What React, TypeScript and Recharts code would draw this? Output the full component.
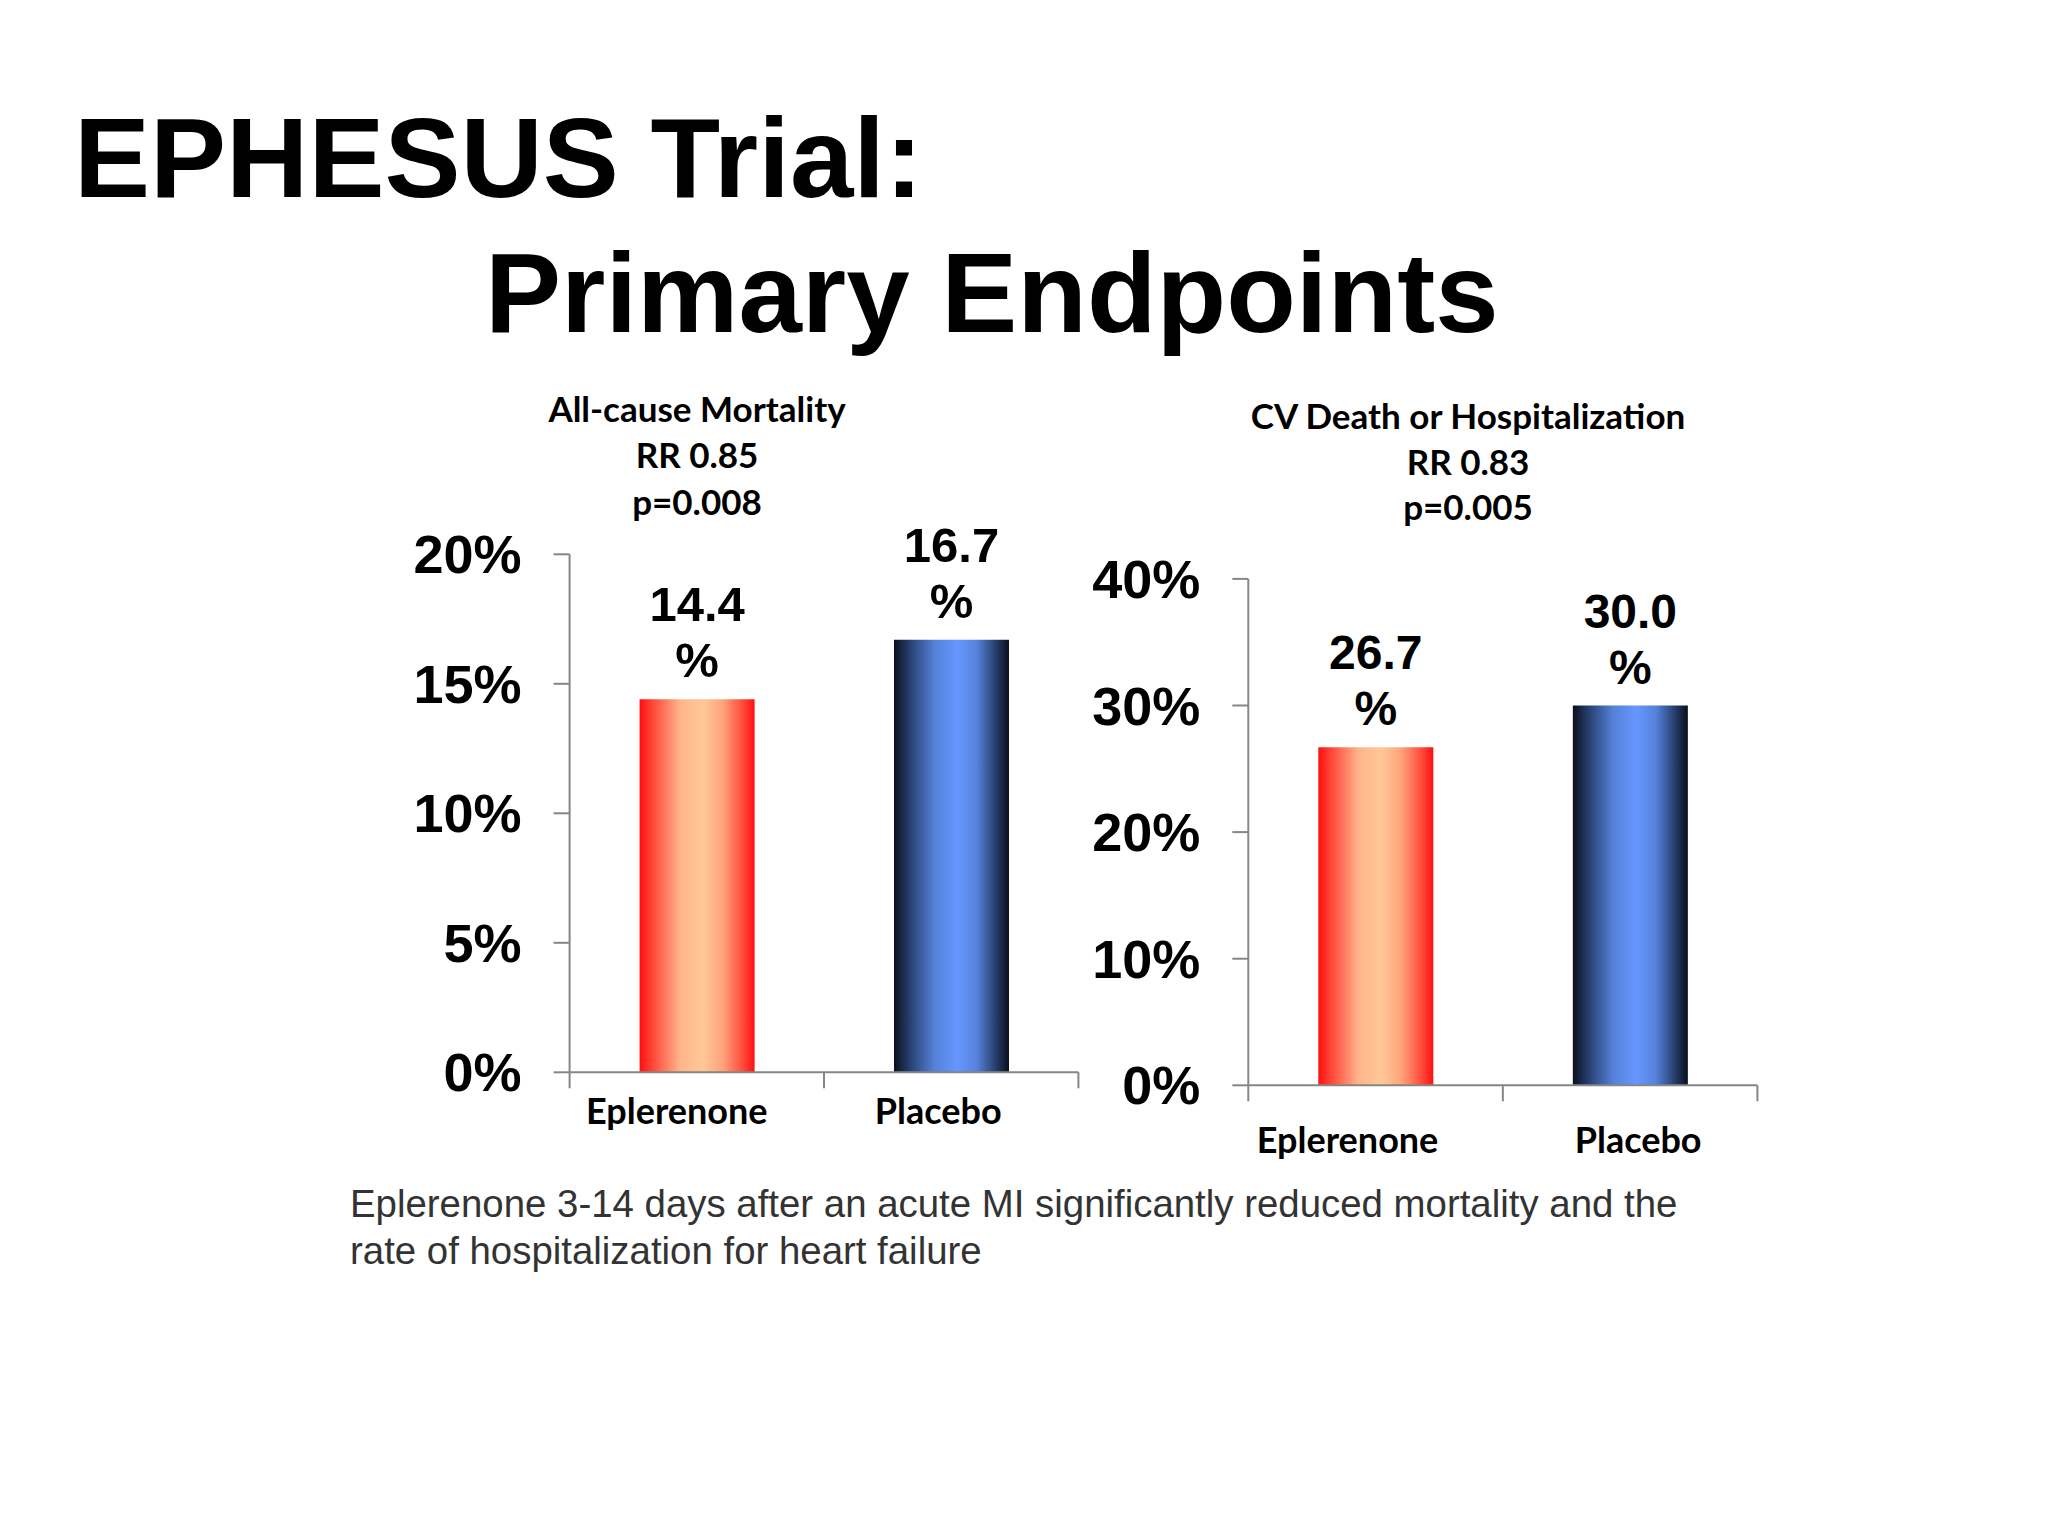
import React from 'react';
import { BarChart, Bar, XAxis, YAxis, LabelList, Cell } from 'recharts';

// ---- Data ----
const categories = ['Eplerenone', 'Placebo'];
const mortalityValues = [14.4, 16.7];
const cvValues = [26.7, 30.0];
const mortalityTicks = [0, 5, 10, 15, 20];
const cvTicks = [0, 10, 20, 30, 40];
const mortalityTitle = ['All-cause Mortality', 'RR 0.85', 'p=0.008'];
const cvTitle = ['CV Death or Hospitalization', 'RR 0.83', 'p=0.005'];
const titleLines = ['EPHESUS Trial:', 'Primary Endpoints'];
const footnoteLines = [
  'Eplerenone 3-14 days after an acute MI significantly reduced mortality and the',
  'rate of hospitalization for heart failure',
];
const barFills = ['url(#gradRed)', 'url(#gradBlue)'];

const ARIAL = '"Liberation Sans", Arial, sans-serif';
const CALIBRI = 'Lato, "Open Sans", sans-serif';
const AXIS = '#868686';

const mortalityData = categories.map((name, i) => ({ name, value: mortalityValues[i] }));
const cvData = categories.map((name, i) => ({ name, value: cvValues[i] }));

type ChartProps = {
  data: { name: string; value: number }[];
  ticks: number[];
  left: number;
  top: number;
  width: number;
  height: number;
  marginTop: number;
  marginRight: number;
  marginBottom: number;
  yAxisWidth: number;
  labelDy: number;
  labelOffsets: number[];
  valueFont: number;
};

function EndpointChart(p: ChartProps) {
  const plotW = p.width - p.yAxisWidth - p.marginRight;
  const band = plotW / p.data.length;

  const renderTick = (props: any) => {
    const { x, y, payload, index } = props;
    const half = band / 2;
    return (
      <g>
        <line x1={x - half} x2={x - half} y1={y} y2={y + 16} stroke={AXIS} strokeWidth={2} />
        {index === p.data.length - 1 && (
          <line x1={x + half} x2={x + half} y1={y} y2={y + 16} stroke={AXIS} strokeWidth={2} />
        )}
        <text
          x={x + (p.labelOffsets[index] || 0)}
          y={y + p.labelDy}
          textAnchor="middle"
          fontFamily={CALIBRI}
          fontWeight={700}
          fontSize={36}
          fill="#000"
        >
          {payload.value}
        </text>
      </g>
    );
  };

  const renderValue = (props: any) => {
    const { x, y, width, value } = props;
    const cx = x + width / 2;
    const base = y - 22;
    return (
      <g>
        <text x={cx} y={base - 56} textAnchor="middle" fontFamily={ARIAL} fontWeight={700} fontSize={p.valueFont} fill="#000">
          {Number(value).toFixed(1)}
        </text>
        <text x={cx} y={base} textAnchor="middle" fontFamily={ARIAL} fontWeight={700} fontSize={p.valueFont} fill="#000">
          %
        </text>
      </g>
    );
  };

  return (
    <div style={{ position: 'absolute', left: p.left, top: p.top }}>
      <BarChart
        width={p.width}
        height={p.height}
        data={p.data}
        margin={{ top: p.marginTop, right: p.marginRight, bottom: p.marginBottom, left: 0 }}
        barSize={115}
      >
        <XAxis
          dataKey="name"
          interval={0}
          tickLine={false}
          tickSize={0}
          tickMargin={0}
          height={60}
          axisLine={{ stroke: AXIS, strokeWidth: 2 }}
          tick={renderTick}
        />
        <YAxis
          domain={[p.ticks[0], p.ticks[p.ticks.length - 1]]}
          ticks={p.ticks}
          interval={0}
          width={p.yAxisWidth}
          tickSize={16}
          tickMargin={32}
          axisLine={{ stroke: AXIS, strokeWidth: 2 }}
          tickLine={{ stroke: AXIS, strokeWidth: 2 }}
          tickFormatter={(v: number) => `${v}%`}
          tick={{ fontFamily: ARIAL, fontWeight: 700, fontSize: 54, fill: '#000' }}
        />
        <Bar dataKey="value" isAnimationActive={false}>
          {p.data.map((d, i) => (
            <Cell key={d.name} fill={barFills[i]} />
          ))}
          <LabelList dataKey="value" content={renderValue} />
        </Bar>
      </BarChart>
    </div>
  );
}

export default function App() {
  return (
    <div style={{ position: 'absolute', left: 0, top: 0, width: 2048, height: 1536, background: '#fff', overflow: 'hidden' }}>
      <svg width={2048} height={1536} style={{ position: 'absolute', left: 0, top: 0 }}>
        <defs>
          <linearGradient id="gradRed" x1="0" y1="0" x2="1" y2="0">
            <stop offset="0%" stopColor="#FF0F0F" />
            <stop offset="12%" stopColor="#FF4A3A" />
            <stop offset="35%" stopColor="#FFB48A" />
            <stop offset="55%" stopColor="#FFC896" />
            <stop offset="72%" stopColor="#FFA47C" />
            <stop offset="90%" stopColor="#FF4A3A" />
            <stop offset="100%" stopColor="#FF0F0F" />
          </linearGradient>
          <linearGradient id="gradBlue" x1="0" y1="0" x2="1" y2="0">
            <stop offset="0%" stopColor="#0A0F1A" />
            <stop offset="12%" stopColor="#233A66" />
            <stop offset="35%" stopColor="#5581D8" />
            <stop offset="55%" stopColor="#6697FF" />
            <stop offset="72%" stopColor="#5682DC" />
            <stop offset="90%" stopColor="#223862" />
            <stop offset="100%" stopColor="#0A0F1A" />
          </linearGradient>
        </defs>
        <text x={74} y={197} fontFamily={ARIAL} fontWeight={700} fontSize={114} fill="#000">
          {titleLines[0]}
        </text>
        <text x={485} y={332} fontFamily={ARIAL} fontWeight={700} fontSize={114} fill="#000">
          {titleLines[1]}
        </text>
        {mortalityTitle.map((t, i) => (
          <text key={t} x={697} y={[422, 468, 515][i]} textAnchor="middle" fontFamily={CALIBRI} fontWeight={700} fontSize={35} fill="#000">
            {t}
          </text>
        ))}
        {cvTitle.map((t, i) => (
          <text key={t} x={1468} y={[429, 475, 520][i]} textAnchor="middle" fontFamily={CALIBRI} fontWeight={700} fontSize={35} fill="#000">
            {t}
          </text>
        ))}
        {footnoteLines.map((t, i) => (
          <text key={t} x={350} y={1217 + i * 47} fontFamily={ARIAL} fontSize={38.4} fill="#333">
            {t}
          </text>
        ))}
      </svg>
      <EndpointChart
        data={mortalityData}
        ticks={mortalityTicks}
        left={400}
        top={500}
        width={720}
        height={640}
        marginTop={54.3}
        marginRight={41.6}
        marginBottom={7.7}
        yAxisWidth={169.6}
        labelDy={52}
        labelOffsets={[-20, -13]}
        valueFont={49}
      />
      <EndpointChart
        data={cvData}
        ticks={cvTicks}
        left={1079}
        top={520}
        width={720}
        height={640}
        marginTop={58.9}
        marginRight={41.6}
        marginBottom={14.7}
        yAxisWidth={169.3}
        labelDy={68}
        labelOffsets={[-28, 8]}
        valueFont={48}
      />
    </div>
  );
}
